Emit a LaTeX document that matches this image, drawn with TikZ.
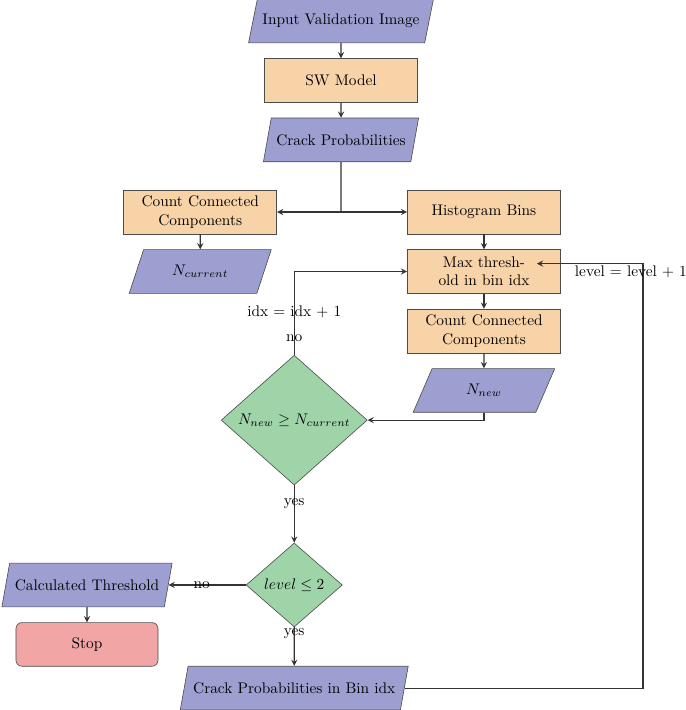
\documentclass[tikz,border=0pt]{standalone}
\usepackage{amsmath}
\usepackage{amssymb}
\usepackage{tikz}
\usetikzlibrary{arrows.meta, shapes.geometric}
\definecolor{ioBlue}{HTML}{9C9FD0}
\definecolor{procOrange}{HTML}{F9D3A8}
\definecolor{decGreen}{HTML}{9FD4A9}
\definecolor{stopRed}{HTML}{F2A5A5}
\tikzstyle{fStop} = [rectangle, rounded corners, minimum width=3.25cm, minimum height=1cm, text centered, draw=black!70, fill=stopRed]
\tikzstyle{fData} = [trapezium, trapezium stretches=true, trapezium left angle=70, trapezium right angle=110, minimum width=3.25cm, minimum height=1cm, text centered, draw=black!70, fill=ioBlue]
\tikzstyle{fProcess} = [rectangle, minimum width=3.5cm, minimum height=1cm, text centered, align=center, draw=black!70, fill=procOrange]
\tikzstyle{fDecision} = [diamond, aspect=1.12, inner sep=0pt, text centered, draw=black!70, fill=decGreen]
\tikzstyle{fArrow} = [thick, draw=black!80, ->, >=stealth]

\begin{document}
\begin{tikzpicture}[node distance=1.36cm]
    \useasboundingbox (0,0) rectangle (15.67,-16.24);
    \node (input) [fData] at (7.80,-0.48) {Input Validation Image};
    \node (swModel) [fProcess, below of=input] {SW Model};
    \node (crackProb) [fData, below of=swModel] {Crack Probabilities};
    \node (countLeft) [fProcess, below of=crackProb, xshift=-3.22cm, yshift=-0.29cm] {Count Connected\\Components};
    \node (histBins) [fProcess, below of=crackProb, xshift=3.27cm, yshift=-0.29cm] {Histogram Bins};
    \node (nCurrent) [fData, below of=countLeft] {$N_{current}$};
    \node (maxThresh) [fProcess, below of=histBins] {Max thresh-\\old in bin idx};
    \node (countRight) [fProcess, below of=maxThresh] {Count Connected\\Components};
    \node (nNew) [fData, below of=countRight] {$N_{new}$};
    \node (compareN) [fDecision, left of=nNew, xshift=-2.98cm, yshift=-0.68cm, minimum width=3.34cm, minimum height=2.97cm] {$N_{new} \geq N_{current}$};
    \node (levelCheck) [fDecision, below of=compareN, yshift=-2.41cm, minimum width=2.2cm, minimum height=1.92cm] {$level \leq 2$};
    \node (calcThresh) [fData, left of=levelCheck, xshift=-3.38cm] {Calculated Threshold};
    \node (stop) [fStop, below of=calcThresh] {Stop};
    \node (binProb) [fData, below of=levelCheck, yshift=-1cm] {Crack Probabilities in Bin idx};

    \coordinate (split) at (crackProb |- histBins);
    \coordinate (maxIn) at ([xshift=1.21cm, yshift=0.18cm]maxThresh.center);
    \coordinate (loopTop) at ([xshift=2.43cm]maxIn);

    \draw [fArrow] (input) -- (swModel);
    \draw [fArrow] (swModel) -- (crackProb);
    \draw [thick, draw=black!80] (crackProb) -- (split);
    \draw [fArrow] (split) -- (countLeft);
    \draw [fArrow] (split) -- (histBins);
    \draw [fArrow] (countLeft) -- (nCurrent);
    \draw [fArrow] (histBins) -- (maxThresh);
    \draw [fArrow] (maxThresh) -- (countRight);
    \draw [fArrow] (countRight) -- (nNew);
    \draw [fArrow] (nNew) |- (compareN);
    \draw [fArrow] (compareN) |- node[pos=0.1] {no} node[pos=0.26] {idx $=$ idx $+$ 1} (maxThresh);
    \draw [fArrow] (compareN) -- node[pos=0.31] {yes} (levelCheck);
    \draw [fArrow] (levelCheck) -- node[pos=0.57] {no} (calcThresh);
    \draw [fArrow] (calcThresh) -- (stop);
    \draw [fArrow] (levelCheck) -- node[pos=0.16] {yes} (binProb);
    \draw [fArrow] (binProb.east) -| (loopTop) node[pos=0.99, xshift=-0.28cm] {level $=$ level $+$ 1} -- (maxIn);
\end{tikzpicture}
\end{document}
